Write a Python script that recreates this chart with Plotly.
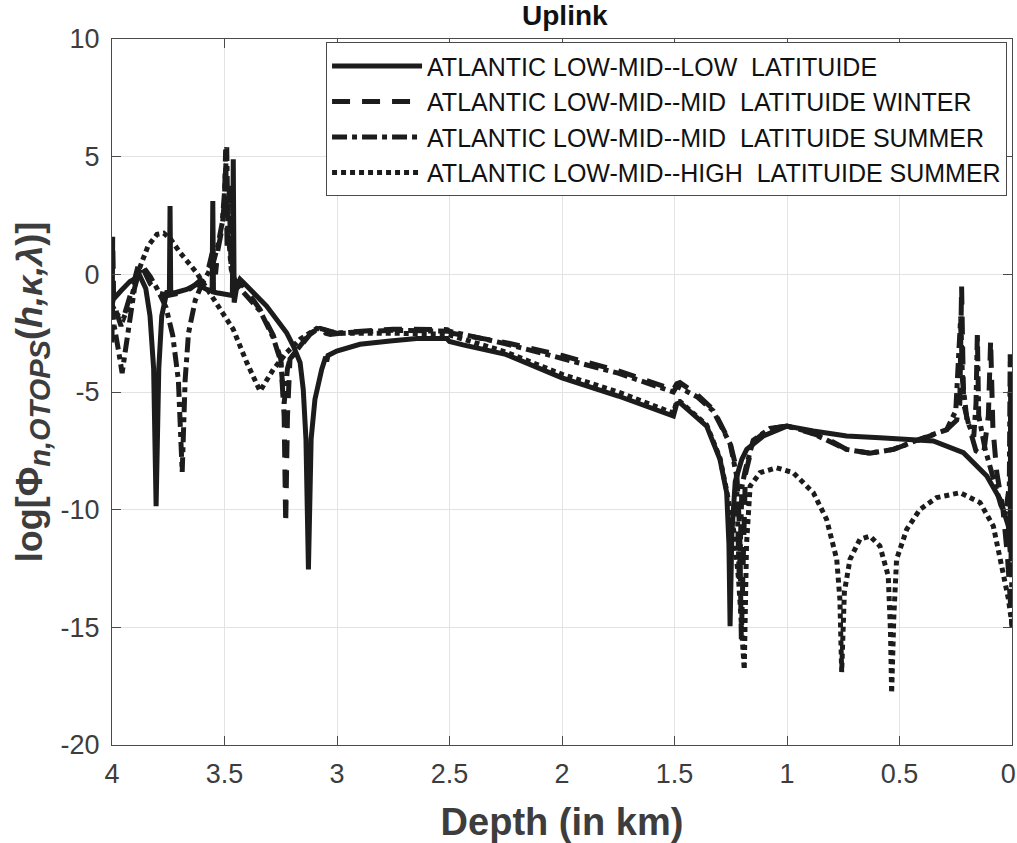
import plotly.graph_objects as go

# ---------------- data ----------------
low_x = [4.0, 3.994, 3.96, 3.92, 3.876, 3.85, 3.831, 3.815, 3.804, 3.792, 3.779, 3.757, 3.745, 3.742, 3.739,
         3.72, 3.668, 3.624, 3.579, 3.555, 3.552, 3.549, 3.535, 3.49, 3.465, 3.461, 3.457, 3.445, 3.431, 3.416,
         3.313, 3.224, 3.194, 3.164, 3.15, 3.138, 3.127, 3.115, 3.098, 3.068, 3.05, 3.046, 3.04, 3.001, 2.898,
         2.764, 2.646, 2.512, 2.50, 2.44, 2.25, 2.0, 1.75, 1.505, 1.49, 1.476, 1.357, 1.298, 1.268, 1.258,
         1.253, 1.245, 1.23, 1.201, 1.179, 1.105, 1.001, 0.883, 0.735, 0.587, 0.439, 0.35, 0.216, 0.112,
         0.053, 0.016, 0.008, 0.006, 0.004, 0.0]
low_y = [-1.3, -1.06, -0.7, -0.3, -0.07, -0.6, -1.77, -4.0, -9.85, -4.0, -1.77, -0.77, -0.75, 2.9, -0.78,
         -0.78, -0.64, -0.42, -0.64, -0.7, 3.12, -0.75, -0.78, -0.85, -0.9, 4.89, -1.2, -0.5, -0.21, -0.35,
         -1.35, -2.48, -3.05, -3.75, -4.89, -7.0, -12.54, -7.0, -5.31, -4.04, -3.5, -3.7, -3.45, -3.26, -2.97,
         -2.83, -2.73, -2.73, -2.85, -3.0, -3.4, -4.4, -5.17, -6.02, -5.5, -5.45, -6.45, -7.86, -9.28, -11.5,
         -14.95, -11.0, -8.8, -7.86, -7.44, -6.87, -6.45, -6.66, -6.87, -6.94, -7.01, -7.08, -7.58, -8.57,
         -9.56, -10.7, -11.8, -4.7, -12.2, -11.0]

winter_x = [4.0, 3.997, 3.993, 3.98, 3.96, 3.94, 3.91, 3.88, 3.86, 3.83, 3.79, 3.75, 3.70, 3.65, 3.60, 3.57,
            3.555, 3.54, 3.53, 3.51, 3.50, 3.495, 3.488, 3.48, 3.47, 3.45, 3.431, 3.342, 3.283, 3.25, 3.235,
            3.228, 3.22, 3.209, 3.164, 3.12, 3.075, 3.05, 3.03, 2.94, 2.75, 2.51, 2.49, 2.25, 2.0, 1.75, 1.505,
            1.49, 1.476, 1.4, 1.328, 1.253, 1.224, 1.21, 1.203, 1.195, 1.185, 1.15, 1.076, 1.0, 0.9, 0.839,
            0.735, 0.631, 0.527, 0.409, 0.29, 0.246, 0.232, 0.224, 0.215, 0.187, 0.16, 0.127, 0.105, 0.095,
            0.085, 0.068, 0.04, 0.02, 0.005, 0.0]
winter_y = [-2.9, 1.6, -0.8, -1.6, -2.2, -1.6, -0.6, 0.5, 0.2, -0.4, -0.8, -0.9, -0.8, -0.6, -0.2, 0.3,
            0.9, 0.0, 1.0, 2.0, 3.2, 5.3, 1.0, 3.8, 0.0, -0.3, -0.3, -1.5, -2.6, -3.6, -6.0,
            -10.6, -6.0, -3.6, -3.05, -2.55, -2.25, -2.5, -2.55, -2.45, -2.33, -2.35, -2.5, -2.9, -3.45, -4.1, -4.9,
            -4.65, -4.6, -5.1, -5.74, -7.15, -8.3, -11.0, -15.5, -11.0, -8.5, -7.1, -6.55, -6.45, -6.7, -6.9,
            -7.44, -7.6, -7.44, -7.0, -6.6, -6.2, -5.5, -0.5, -5.5, -6.6, -7.5, -7.7, -6.0, -2.8,
            -6.5, -8.4, -10.0, -12.0, -14.9, -15.0]

summer_x = [4.0, 3.99, 3.97, 3.955, 3.94, 3.92, 3.90, 3.88, 3.86, 3.83, 3.80, 3.76, 3.73, 3.705, 3.688,
            3.675, 3.66, 3.63, 3.60, 3.57, 3.55, 3.53, 3.51, 3.50, 3.49, 3.485, 3.47, 3.45, 3.342, 3.283,
            3.25, 3.235, 3.22, 3.209, 3.164, 3.12, 3.075, 3.0, 2.75, 2.5, 2.25, 2.0, 1.75, 1.505, 1.49, 1.4,
            1.328, 1.253, 1.225, 1.212, 1.2, 1.185, 1.15, 1.076, 1.0, 0.9, 0.735, 0.631, 0.527, 0.409, 0.29,
            0.25, 0.235, 0.228, 0.22, 0.2, 0.17, 0.16, 0.154, 0.148, 0.12, 0.09, 0.05, 0.03, 0.012, 0.008,
            0.004, 0.0]
summer_y = [-1.3, -2.2, -3.3, -4.2, -3.2, -1.8, -0.6, 0.1, 0.3, -0.1, -0.6, -1.4, -2.6, -4.5, -8.4,
            -4.5, -2.5, -1.1, -0.4, 0.1, 0.5, 1.2, 2.2, 3.5, 5.4, 2.0, 0.2, -0.4, -1.55, -2.7,
            -3.7, -5.5, -4.0, -3.6, -3.0, -2.5, -2.3, -2.5, -2.38, -2.42, -2.95, -3.55, -4.2, -5.0, -4.75, -5.2,
            -5.8, -7.2, -8.5, -13.0, -9.0, -8.3, -7.05, -6.55, -6.45, -6.7, -7.44, -7.6, -7.44, -7.0, -6.6,
            -5.8, -3.5, -1.8, -4.5, -6.2, -6.9, -5.5, -2.5, -6.0, -7.4, -8.5, -9.8, -10.2, -9.0, -3.4,
            -10.0, -14.8]

high_x = [4.0, 3.98, 3.95, 3.92, 3.88, 3.84, 3.80, 3.77, 3.74, 3.698, 3.624, 3.535, 3.461, 3.401, 3.342,
          3.283, 3.224, 3.164, 3.09, 3.06, 3.0, 2.75, 2.51, 2.25, 2.0, 1.75, 1.505, 1.49, 1.476, 1.357,
          1.298, 1.268, 1.235, 1.215, 1.19, 1.18, 1.164, 1.12, 1.046, 0.972, 0.883, 0.824, 0.779, 0.765,
          0.757, 0.745, 0.72, 0.676, 0.631, 0.587, 0.55, 0.54, 0.535, 0.525, 0.513, 0.468, 0.409, 0.335,
          0.231, 0.142, 0.083, 0.046, 0.016, 0.0]
high_y = [-1.3, -1.7, -1.9, -1.2, 0.2, 1.2, 1.7, 1.75, 1.5, 0.93, 0.07, -1.2, -2.34, -3.75, -4.96,
          -4.04, -3.33, -2.76, -2.3, -2.35, -2.5, -2.5, -2.55, -3.3, -4.25, -5.0, -5.9, -5.4, -5.4, -6.4,
          -7.8, -9.2, -11.0, -13.0, -16.8, -11.5, -9.0, -8.43, -8.22, -8.43, -9.28, -10.41, -12.11, -13.8,
          -16.9, -13.5, -12.11, -11.26, -11.12, -11.55, -12.82, -15.2, -17.8, -14.5, -12.11, -10.84, -9.99, -9.49,
          -9.28, -9.7, -10.7, -12.4, -13.8, -14.9]

series_names = [
    "ATLANTIC LOW-MID--LOW\u00a0 LATITUIDE",
    "ATLANTIC LOW-MID--MID\u00a0 LATITUIDE WINTER",
    "ATLANTIC LOW-MID--MID\u00a0 LATITUIDE SUMMER",
    "ATLANTIC LOW-MID--HIGH\u00a0 LATITUIDE SUMMER",
]

x_ticks = [4, 3.5, 3, 2.5, 2, 1.5, 1, 0.5, 0]
x_ticktext = ["4", "3.5", "3", "2.5", "2", "1.5", "1", "0.5", "0\u00a0"]
y_ticks = [-20, -15, -10, -5, 0, 5, 10]
y_ticktext = ["-20", "-15", "-10", "-5", "0", "5", "10"]

# ---------------- figure ----------------
FONT = "Liberation Sans, Arial, sans-serif"
LINE_C = "#1c1c1c"
W = 5
styles = ["solid", "18px,12px", "15px,5px,5px,5px", "5px,4px"]
data = [(low_x, low_y), (winter_x, winter_y), (summer_x, summer_y), (high_x, high_y)]

fig = go.Figure()
for (xs, ys), name, dash in zip(data, series_names, styles):
    fig.add_trace(go.Scatter(x=xs, y=ys, mode="lines", name=name,
                             line=dict(color=LINE_C, width=W, dash=dash)))

axis_common = dict(
    showgrid=True, gridcolor="#e3e3e3", gridwidth=1, zeroline=False,
    showline=True, linecolor="#4a4a4a", linewidth=1.3, mirror="ticks",
    ticks="inside", ticklen=9, tickcolor="#4a4a4a", tickwidth=1.2,
    tickfont=dict(family=FONT, size=27, color="#3d3d3d"),
    ticklabeloverflow="allow", automargin=False,
)

ytitle = ("<b>log[Φ<sub><span style='font-size:29px'><i>n,OTOPS</i></span></sub>"
          "(<i>h,κ,λ</i>)]</b>")

fig.update_layout(
    width=1017, height=843,
    margin=dict(l=112, r=5, t=39, b=98),
    paper_bgcolor="white", plot_bgcolor="white",
    title=dict(text="<b>Uplink</b>", x=0.5554, xanchor="center", y=1 - 15 / 843, yanchor="middle",
               font=dict(family=FONT, size=28, color="#111111")),
    xaxis=dict(range=[4, 0], tickvals=x_ticks, ticktext=x_ticktext, ticklabelstandoff=4,
               title=dict(text="<b>Depth (in km)</b>", standoff=20,
                          font=dict(family=FONT, size=38, color="#3d3d3d")),
               **axis_common),
    yaxis=dict(range=[-20, 10], tickvals=y_ticks, ticktext=y_ticktext, ticklabelstandoff=6,
               title=dict(text=ytitle, standoff=6,
                          font=dict(family=FONT, size=36, color="#3d3d3d")),
               **axis_common),
    legend=dict(x=0.9945, xanchor="right", y=0.9955, yanchor="top",
                bgcolor="white", bordercolor="#4a4a4a", borderwidth=1,
                font=dict(family=FONT, size=25, color="#111111"),
                itemwidth=90, tracegroupgap=0),
    showlegend=True,
)

fig.write_html("out.html")
